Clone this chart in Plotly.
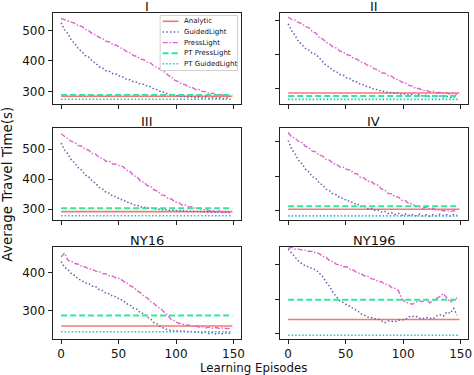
import plotly.graph_objects as go

# ---------------- data ----------------
episodes = list(range(0, 150, 3))
panel_titles = ["I", "II", "III", "IV", "NY16", "NY196"]
series_names = ["Analytic", "GuidedLight", "PressLight", "PT PressLight", "PT GuidedLight"]

analytic = [284, 287, 292, 304, 260, 241]
pt_presslight = [288, 278, 303, 313, 287, 298]
pt_guidedlight = [274, 268, 278, 285, 245, 196]

I_press = [540, 536, 534, 528, 524, 516, 514, 504, 500, 490,
           486, 478, 474, 465, 463, 454, 452, 444, 440, 431,
           427, 418, 415, 406, 404, 396, 393, 382, 379, 369,
           364, 353, 348, 336, 332, 324, 322, 314, 313, 306,
           306, 299, 299, 292, 294, 288, 291, 285, 289, 284]
I_guided = [526, 503, 490, 468, 457, 440, 431, 418, 413, 400,
            393, 381, 377, 368, 366, 358, 357, 350, 347, 339,
            338, 331, 330, 323, 323, 317, 315, 307, 305, 298,
            297, 290, 290, 285, 286, 282, 284, 280, 283, 279,
            282, 278, 281, 277, 280, 278, 279, 276, 279, 277]
II_press = [510, 503, 501, 494, 491, 482, 479, 468, 463, 450,
            446, 436, 431, 422, 419, 410, 407, 400, 397, 388,
            386, 378, 375, 368, 366, 358, 355, 346, 345, 338,
            336, 328, 326, 318, 317, 309, 307, 300, 300, 294,
            295, 290, 292, 287, 289, 285, 287, 283, 286, 282]
II_guided = [490, 470, 456, 438, 429, 418, 413, 403, 401, 390,
             381, 368, 363, 353, 350, 341, 339, 331, 329, 321,
             319, 312, 311, 304, 303, 297, 297, 291, 292, 287,
             289, 285, 287, 283, 285, 281, 283, 279, 282, 278,
             280, 277, 279, 276, 278, 275, 277, 274, 276, 274]
III_press = [552, 543, 537, 526, 522, 512, 510, 500, 497, 486,
             484, 473, 470, 460, 460, 451, 450, 444, 442, 430,
             426, 412, 408, 394, 390, 379, 376, 364, 360, 348,
             346, 336, 334, 324, 323, 314, 314, 307, 308, 302,
             304, 298, 300, 294, 296, 291, 294, 289, 292, 288]
III_guided = [521, 498, 484, 464, 454, 438, 430, 414, 408, 394,
              387, 373, 368, 356, 353, 343, 342, 333, 332, 323,
              322, 314, 314, 307, 308, 303, 305, 300, 302, 297,
              300, 295, 298, 294, 297, 292, 296, 291, 295, 290,
              294, 290, 293, 289, 292, 288, 292, 288, 291, 288]
IV_press = [526, 513, 510, 500, 497, 486, 482, 472, 470, 460,
            458, 448, 446, 436, 434, 426, 426, 419, 418, 408,
            406, 396, 395, 385, 385, 377, 374, 363, 360, 350,
            349, 340, 339, 330, 329, 320, 320, 312, 313, 307,
            310, 305, 307, 301, 303, 299, 301, 297, 300, 297]
IV_guided = [503, 478, 464, 446, 436, 420, 412, 398, 394, 380,
             374, 362, 358, 348, 346, 337, 336, 328, 328, 320,
             320, 312, 313, 306, 307, 301, 302, 296, 298, 292,
             294, 289, 292, 287, 290, 286, 289, 285, 290, 285,
             288, 284, 289, 285, 290, 286, 288, 284, 289, 286]
NY16_press = [440, 450, 431, 429, 423, 421, 415, 414, 409, 408,
              403, 402, 397, 396, 391, 390, 385, 384, 377, 373,
              365, 361, 352, 347, 338, 333, 323, 318, 309, 304,
              295, 287, 276, 273, 267, 266, 262, 262, 259, 260,
              257, 258, 255, 257, 254, 256, 253, 255, 253, 254]
NY16_guided = [428, 413, 407, 396, 392, 382, 379, 372, 371, 364,
               363, 355, 353, 345, 344, 337, 336, 329, 327, 318,
               315, 306, 304, 294, 292, 283, 278, 268, 265, 256,
               254, 249, 249, 246, 248, 245, 247, 244, 246, 243,
               245, 241, 244, 240, 243, 238, 242, 239, 243, 240]
NY196_press = [446, 449, 444, 444, 441, 441, 437, 438, 433, 431,
               423, 420, 411, 408, 400, 399, 393, 393, 385, 383,
               375, 374, 367, 366, 359, 357, 351, 350, 343, 342,
               333, 331, 324, 300, 291, 289, 285, 291, 294, 293,
               299, 289, 297, 302, 307, 316, 303, 291, 299, 303]
NY196_guided = [444, 431, 421, 409, 403, 395, 393, 387, 385, 375,
                365, 349, 337, 319, 307, 295, 290, 283, 279, 271,
                267, 258, 254, 248, 247, 243, 243, 237, 232, 237,
                237, 235, 239, 239, 241, 249, 251, 251, 245, 243,
                247, 246, 243, 251, 255, 251, 263, 259, 273, 254]

presslight = [I_press, II_press, III_press, IV_press, NY16_press, NY196_press]
guidedlight = [I_guided, II_guided, III_guided, IV_guided, NY16_guided, NY196_guided]

x_ticks = [0, 50, 100, 150]

# ---------------- layout helpers ----------------
W, H = 474, 375
def px(x):
    return x / W
def py(y):
    return 1 - y / H

col_x = [(53, 243), (282, 472)]
row_y = [(13, 103.5), (128, 220), (247, 339)]
y_ranges = [[260, 558], [256, 522], [264, 571], [273, 539], [226, 466], [185, 450]]
x_range = [-7.45, 156.45]

colors = {
    "Analytic": "#f4786e",
    "GuidedLight": "#6e5db3",
    "PressLight": "#e062c9",
    "PT PressLight": "#30e89a",
    "PT GuidedLight": "#22bccf",
}
styles = {
    "Analytic": dict(width=1.6, dash="solid"),
    "GuidedLight": dict(width=1.5, dash="1.5px,2.2px"),
    "PressLight": dict(width=1.4, dash="5px,1.8px,1.5px,1.8px"),
    "PT PressLight": dict(width=2.0, dash="6px,3px"),
    "PT GuidedLight": dict(width=1.6, dash="1.5px,2px"),
}
FONT = "DejaVu Sans"

fig = go.Figure()
layout = {}
annotations = []
shapes = []

for i in range(6):
    r, c = divmod(i, 2)
    n = i + 1
    xa = "x" if n == 1 else f"x{n}"
    ya = "y" if n == 1 else f"y{n}"
    x0, x1 = min(episodes), max(episodes) + 2
    traces = [
        ("Analytic", [x0, x1], [analytic[i], analytic[i]]),
        ("GuidedLight", episodes, guidedlight[i]),
        ("PressLight", episodes, presslight[i]),
        ("PT PressLight", [x0, x1], [pt_presslight[i], pt_presslight[i]]),
        ("PT GuidedLight", [x0, x1], [pt_guidedlight[i], pt_guidedlight[i]]),
    ]
    for name, xs, ys in traces:
        fig.add_trace(go.Scatter(
            x=xs, y=ys, mode="lines", name=name, showlegend=False,
            line=dict(color=colors[name], **styles[name]),
            xaxis=xa, yaxis=ya))

    cx0, cx1 = col_x[c]
    ry0, ry1 = row_y[r]
    layout["xaxis" if n == 1 else f"xaxis{n}"] = dict(
        domain=[px(cx0), px(cx1)], anchor=ya, range=x_range,
        tickvals=x_ticks, showticklabels=(r == 2),
        ticks="outside", ticklen=4, tickwidth=1, tickcolor="#222",
        showline=True, linecolor="#222", linewidth=1, mirror=True,
        showgrid=False, zeroline=False,
        tickfont=dict(family=FONT, size=12, color="#111"))
    layout["yaxis" if n == 1 else f"yaxis{n}"] = dict(
        domain=[py(ry1), py(ry0)], anchor=xa, range=y_ranges[i],
        tick0=0, dtick=100, showticklabels=(c == 0),
        ticks="outside", ticklen=4, tickwidth=1, tickcolor="#222",
        showline=True, linecolor="#222", linewidth=1, mirror=True,
        showgrid=False, zeroline=False,
        tickfont=dict(family=FONT, size=12, color="#111"))
    annotations.append(dict(
        text=panel_titles[i], x=px((cx0 + cx1) / 2), y=py(ry0 - 6.5),
        xref="paper", yref="paper", xanchor="center", yanchor="middle",
        showarrow=False, font=dict(family=FONT, size=13, color="#111")))

# axis titles
annotations.append(dict(text="Learning Episodes", x=px(256), y=py(367.5),
                        xref="paper", yref="paper", xanchor="center", yanchor="middle",
                        showarrow=False, font=dict(family=FONT, size=11.8, color="#111")))
annotations.append(dict(text="Average Travel Time(s)", x=px(7.5), y=py(184),
                        xref="paper", yref="paper", xanchor="center", yanchor="middle",
                        textangle=-90, showarrow=False,
                        font=dict(family=FONT, size=13.5, color="#111")))

# legend box in panel I
shapes.append(dict(type="rect", xref="paper", yref="paper",
                   x0=px(161.5), x1=px(239.5), y0=py(70.5), y1=py(15.5),
                   line=dict(color="#d0d0d0", width=1), fillcolor="rgba(255,255,255,0.85)",
                   layer="above"))
leg_y = [21.3, 32.0, 42.6, 53.2, 63.8]
for k, name in enumerate(series_names):
    st = styles[name]
    shapes.append(dict(type="line", xref="paper", yref="paper",
                       x0=px(164), x1=px(180), y0=py(leg_y[k]), y1=py(leg_y[k]),
                       line=dict(color=colors[name], width=st["width"], dash=st["dash"]),
                       layer="above"))
    annotations.append(dict(text=name, x=px(184), y=py(leg_y[k]),
                            xref="paper", yref="paper", xanchor="left", yanchor="middle",
                            showarrow=False, font=dict(family=FONT, size=7, color="#111")))

fig.update_layout(
    width=W, height=H, margin=dict(l=0, r=0, t=0, b=0),
    paper_bgcolor="white", plot_bgcolor="white",
    showlegend=False, annotations=annotations, shapes=shapes, **layout)

fig.write_html("out.html", config={"displayModeBar": False},
               post_script="document.body.style.margin='0';document.body.style.overflow='hidden';")
